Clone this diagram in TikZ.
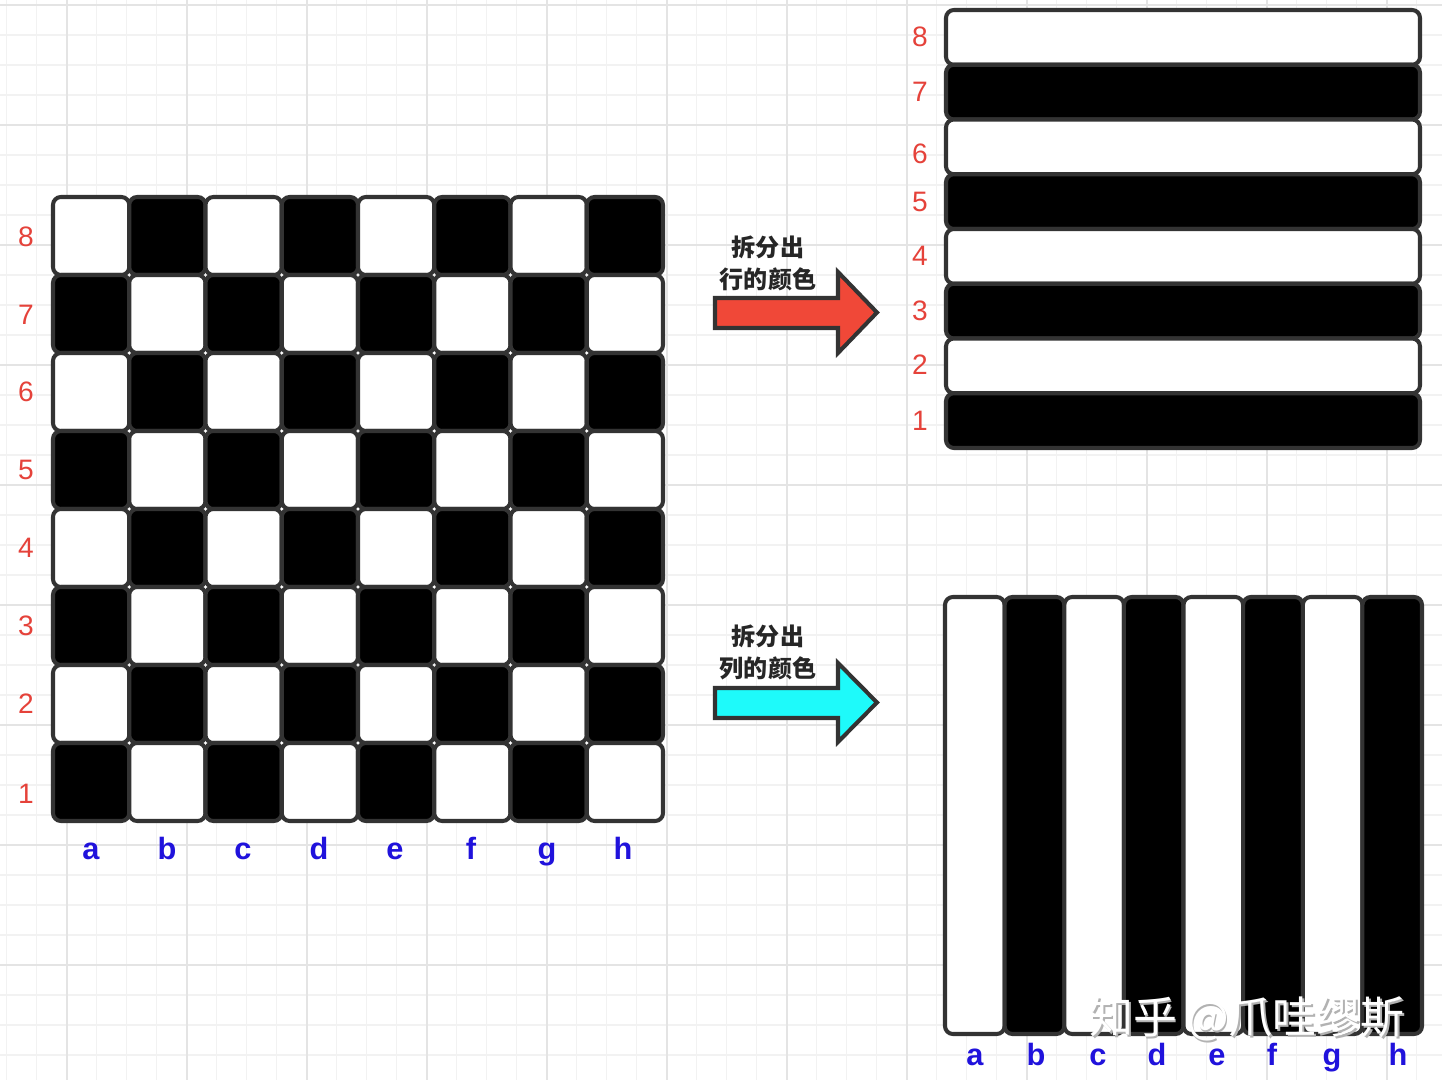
\documentclass[tikz,border=0pt]{standalone}
\usepackage{fontspec}
\setmainfont{Liberation Sans}
\newfontfamily\cjk{Noto Sans CJK SC}
\usepackage{tikz}
\usepackage{color}
\definecolor{cellline}{RGB}{51,51,51}
\definecolor{rankred}{RGB}{229,66,58}
\definecolor{fileblue}{RGB}{32,18,220}
\definecolor{arrowred}{RGB}{240,72,56}
\definecolor{arrowcyan}{RGB}{30,250,250}
\definecolor{gridminor}{RGB}{242,242,242}
\definecolor{gridmajor}{RGB}{228,228,228}

\begin{document}
\begin{tikzpicture}[scale=0.2]
\tikzstyle{every node}+=[inner sep=0pt]
\tikzstyle{cell}=[draw=cellline, line width=2.3pt, rounded corners=4.5pt]
\tikzstyle{rank}=[text=rankred, font=\fontsize{16}{16}\selectfont]
\tikzstyle{file}=[text=fileblue, font=\bfseries\fontsize{17.5}{17.5}\selectfont, anchor=base]
\tikzstyle{bigarrow}=[draw=cellline, line width=2.3pt]
\tikzstyle{split}=[text=black!85, align=center, font=\cjk\bfseries\fontsize{13.7}{18.2}\selectfont]
\tikzstyle{watermark}=[font=\cjk\fontsize{25}{25}\selectfont]
\useasboundingbox (0,0) rectangle (144.2,-108);
\fill [white] (0,0) rectangle (144.2,-108);
% background grid
\foreach \x in {0.67,3.67,...,144.2} \draw [gridminor, line width=0.8pt] (\x,0) -- (\x,-108);
\foreach \y in {-0.5,-3.5,...,-108} \draw [gridminor, line width=0.8pt] (0,\y) -- (144.2,\y);
\foreach \x in {6.67,18.67,...,144.2} \draw [gridmajor, line width=1pt] (\x,0) -- (\x,-108);
\foreach \y in {-0.5,-12.5,...,-108} \draw [gridmajor, line width=1pt] (0,\y) -- (144.2,\y);
% board
\foreach \i in {0,...,7}
  \foreach \j in {0,...,7} {
    \pgfmathtruncatemacro\odd{mod(\i+\j,2)}
    \ifnum\odd=0 \def\cellfill{white}\else\def\cellfill{black}\fi
    \draw [cell, fill=\cellfill] (5.3+7.625*\i,-19.7-7.8*\j) rectangle ++(7.625,-7.8);
  }
\node [rank] (l8) at (2.6,-23.7) {8};
\node [rank] (l7) at (2.6,-31.5) {7};
\node [rank] (l6) at (2.6,-39.2) {6};
\node [rank] (l5) at (2.6,-47.0) {5};
\node [rank] (l4) at (2.6,-54.8) {4};
\node [rank] (l3) at (2.6,-62.6) {3};
\node [rank] (l2) at (2.6,-70.4) {2};
\node [rank] (l1) at (2.6,-79.4) {1};
\foreach \f [count=\k from 0] in {a,b,c,d,e,f,g,h}
  \node [file] (l\f) at (9.1+7.6*\k,-85.9) {\f};
% rows
\draw [cell, fill=white] (94.6,-1.0) rectangle (142.0,-6.475);
\draw [cell, fill=black] (94.6,-6.475) rectangle (142.0,-11.95);
\draw [cell, fill=white] (94.6,-11.95) rectangle (142.0,-17.425);
\draw [cell, fill=black] (94.6,-17.425) rectangle (142.0,-22.9);
\draw [cell, fill=white] (94.6,-22.9) rectangle (142.0,-28.375);
\draw [cell, fill=black] (94.6,-28.375) rectangle (142.0,-33.85);
\draw [cell, fill=white] (94.6,-33.85) rectangle (142.0,-39.325);
\draw [cell, fill=black] (94.6,-39.325) rectangle (142.0,-44.8);
\node [rank] (r8) at (92.0,-3.7) {8};
\node [rank] (r7) at (92.0,-9.2) {7};
\node [rank] (r6) at (92.0,-15.4) {6};
\node [rank] (r5) at (92.0,-20.2) {5};
\node [rank] (r4) at (92.0,-25.6) {4};
\node [rank] (r3) at (92.0,-31.1) {3};
\node [rank] (r2) at (92.0,-36.5) {2};
\node [rank] (r1) at (92.0,-42.1) {1};
% columns
\draw [cell, fill=white] (94.5,-59.7) rectangle (100.46,-103.4);
\draw [cell, fill=black] (100.46,-59.7) rectangle (106.43,-103.4);
\draw [cell, fill=white] (106.43,-59.7) rectangle (112.39,-103.4);
\draw [cell, fill=black] (112.39,-59.7) rectangle (118.35,-103.4);
\draw [cell, fill=white] (118.35,-59.7) rectangle (124.31,-103.4);
\draw [cell, fill=black] (124.31,-59.7) rectangle (130.28,-103.4);
\draw [cell, fill=white] (130.28,-59.7) rectangle (136.24,-103.4);
\draw [cell, fill=black] (136.24,-59.7) rectangle (142.2,-103.4);
\node [file] (ca) at (97.5,-106.5) {a};
\node [file] (cb) at (103.6,-106.5) {b};
\node [file] (cc) at (109.8,-106.5) {c};
\node [file] (cd) at (115.7,-106.5) {d};
\node [file] (ce) at (121.7,-106.5) {e};
\node [file] (cf) at (127.2,-106.5) {f};
\node [file] (cg) at (133.2,-106.5) {g};
\node [file] (ch) at (139.8,-106.5) {h};
% arrows
\draw [bigarrow, fill=arrowred] (71.5,-29.8) -- (83.8,-29.8) -- (83.8,-27.2) -- (87.7,-31.25) -- (83.8,-35.3) -- (83.8,-32.8) -- (71.5,-32.8) -- cycle;
\node [split] (rowtext) at (76.8,-26.3) {拆分出\\行的颜色};
\draw [bigarrow, fill=arrowcyan] (71.5,-68.8) -- (83.8,-68.8) -- (83.8,-66.3) -- (87.7,-70.25) -- (83.8,-74.2) -- (83.8,-71.8) -- (71.5,-71.8) -- cycle;
\node [split] (coltext) at (76.8,-65.2) {拆分出\\列的颜色};
% watermark
\node [watermark, text=black!30] (markshadow) at (124.85,-102.05) {知乎 @爪哇缪斯};
\node [watermark, text=white] (mark) at (124.7,-101.9) {知乎 @爪哇缪斯};
\end{tikzpicture}
\end{document}
